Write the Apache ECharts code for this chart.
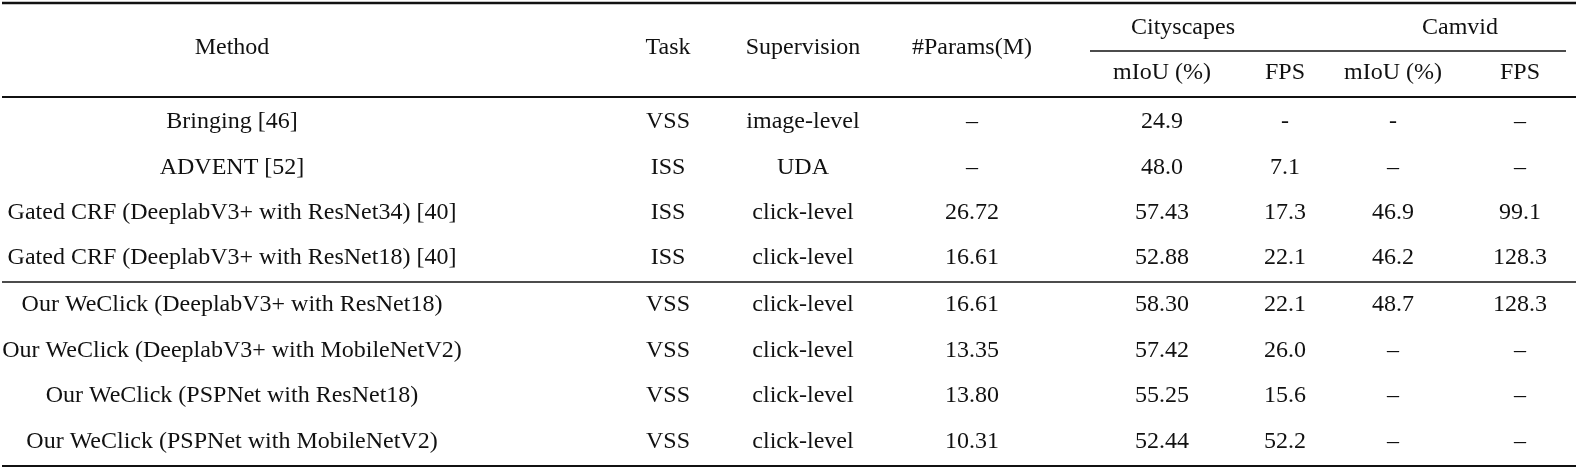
<!DOCTYPE html>
<html>
<head>
<meta charset="utf-8">
<script src="https://cdn.jsdelivr.net/npm/echarts@6/dist/echarts.min.js"></script>
<style>
  html, body { margin: 0; padding: 0; background: #fff; }
  #main { width: 1579px; height: 471px; }
</style>
</head>
<body>
<div id="main"></div>
<script>
// table data
const methods = [
  'Bringing [46]', 'ADVENT [52]',
  'Gated CRF (DeeplabV3+ with ResNet34) [40]', 'Gated CRF (DeeplabV3+ with ResNet18) [40]',
  'Our WeClick (DeeplabV3+ with ResNet18)', 'Our WeClick (DeeplabV3+ with MobileNetV2)',
  'Our WeClick (PSPNet with ResNet18)', 'Our WeClick (PSPNet with MobileNetV2)'
];
const tasks = ['VSS', 'ISS', 'ISS', 'ISS', 'VSS', 'VSS', 'VSS', 'VSS'];
const supervision = ['image-level', 'UDA', 'click-level', 'click-level', 'click-level', 'click-level', 'click-level', 'click-level'];
const params = ['–', '–', '26.72', '16.61', '16.61', '13.35', '13.80', '10.31'];
const cityMiou = ['24.9', '48.0', '57.43', '52.88', '58.30', '57.42', '55.25', '52.44'];
const cityFps = ['-', '7.1', '17.3', '22.1', '22.1', '26.0', '15.6', '52.2'];
const camMiou = ['-', '–', '46.9', '46.2', '48.7', '–', '–', '–'];
const camFps = ['–', '–', '99.1', '128.3', '128.3', '–', '–', '–'];

const colX = [232, 668, 803, 972, 1162, 1285, 1393, 1520];
const rowY = [122, 168, 213, 258, 305, 351, 396, 442];
const font = '24px "Liberation Serif", "DejaVu Serif", serif';

let elements = [];

function text(x, y, s) {
  elements.push({
    type: 'text', x: x, y: y,
    style: { text: s, font: font, fill: '#111', align: 'center', verticalAlign: 'middle' }
  });
}

function rule(x1, x2, y, w) {
  elements.push({
    type: 'line',
    shape: { x1: x1, y1: y, x2: x2, y2: y },
    style: { stroke: '#111', lineWidth: w }
  });
}

// rules
rule(2, 1576, 3, 2.5);
rule(1090, 1566, 51, 1.3);
rule(2, 1576, 97, 2);
rule(2, 1576, 282, 1.3);
rule(2, 1576, 466, 2);

// header
text(colX[0], 48, 'Method');
text(colX[1], 48, 'Task');
text(colX[2], 48, 'Supervision');
text(colX[3], 48, '#Params(M)');
text(1183, 28, 'Cityscapes');
text(1460, 28, 'Camvid');
text(colX[4], 73, 'mIoU (%)');
text(colX[5], 73, 'FPS');
text(colX[6], 73, 'mIoU (%)');
text(colX[7], 73, 'FPS');

const columns = [methods, tasks, supervision, params, cityMiou, cityFps, camMiou, camFps];
columns.forEach((col, c) => {
  col.forEach((s, r) => text(colX[c], rowY[r], s));
});

let myChart = echarts.init(document.getElementById('main'));
myChart.setOption({
  animation: false,
  graphic: { elements: elements }
});
</script>
</body>
</html>
